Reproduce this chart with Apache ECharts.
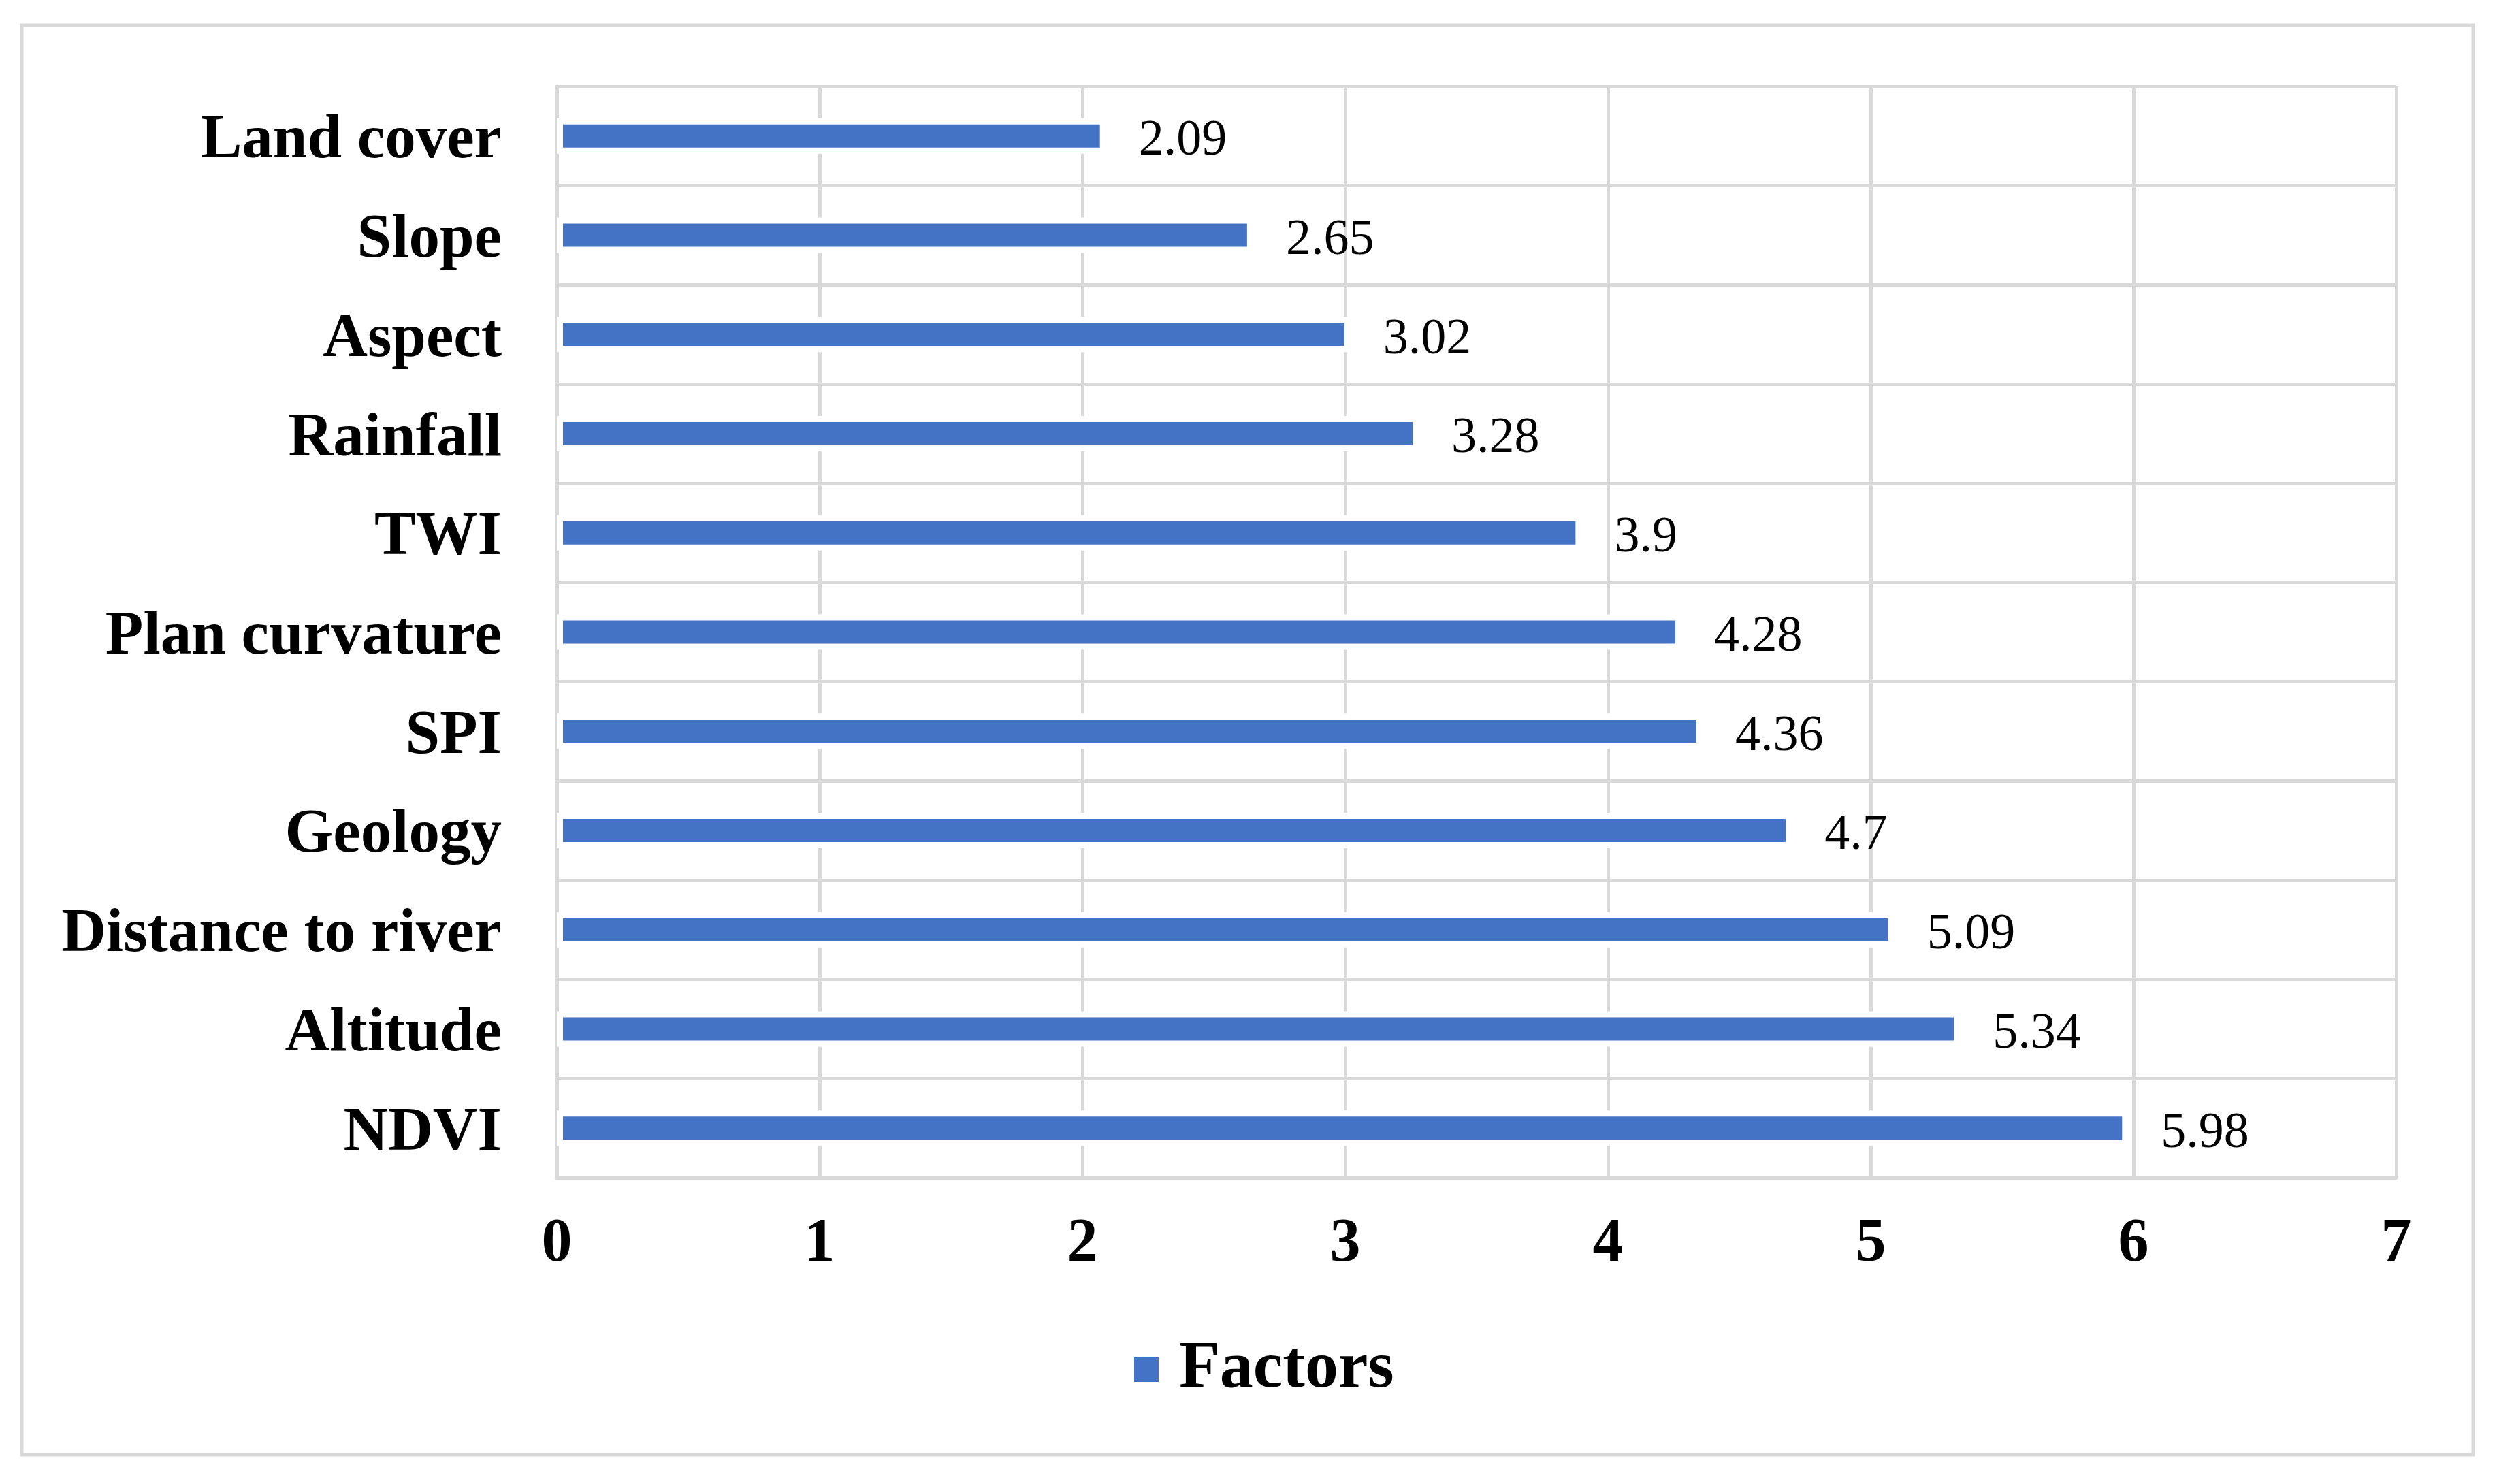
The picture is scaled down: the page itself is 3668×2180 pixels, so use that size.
<!DOCTYPE html>
<html lang="en">
<head>
<meta charset="utf-8">
<title>Factors</title>
<script src="https://cdn.jsdelivr.net/npm/echarts@6/dist/echarts.min.js"></script>
<style>
html,body{margin:0;padding:0;background:#fff;}
#main{width:3668px;height:2180px;}
</style>
</head>
<body>
<div id="main"></div>
<script>
// bottom to top, as in the picture
var factors = ['NDVI', 'Altitude', 'Distance to river', 'Geology', 'SPI', 'Plan curvature', 'TWI', 'Rainfall', 'Aspect', 'Slope', 'Land cover'];
var weights = [5.98, 5.34, 5.09, 4.7, 4.36, 4.28, 3.9, 3.28, 3.02, 2.65, 2.09];
var xTicks = [0, 7, 1]; // min, max, step

var grey = '#d9d9d9';
var serif = '"Liberation Serif","Times New Roman",serif';

var chart = echarts.init(document.getElementById('main'));
chart.setOption({
  backgroundColor: '#fff',
  animation: false,
  graphic: [{
    type: 'rect',
    shape: {x: 32, y: 37, width: 3601, height: 2100},
    style: {fill: 'none', stroke: grey, lineWidth: 5},
    z: -1
  }],
  grid: {left: 818, right: 148, top: 127, bottom: 450},
  legend: {
    data: ['Factors'],
    left: 1659,
    top: 1957,
    itemWidth: 38,
    itemHeight: 38,
    icon: 'rect',
    textStyle: {fontFamily: serif, fontWeight: 'bold', fontSize: 98, color: '#000', lineHeight: 100, padding: [0, 0, 0, 24]}
  },
  xAxis: {
    type: 'value',
    min: xTicks[0], max: xTicks[1], interval: xTicks[2],
    axisLine: {show: true, lineStyle: {color: grey, width: 5}},
    axisTick: {show: false},
    splitLine: {show: true, lineStyle: {color: grey, width: 5}},
    axisLabel: {fontFamily: serif, fontWeight: 'bold', fontSize: 90, color: '#000', margin: 54, lineHeight: 90}
  },
  yAxis: {
    type: 'category',
    data: factors,
    axisLine: {show: true, lineStyle: {color: grey, width: 5}},
    axisTick: {show: false},
    splitLine: {show: true, lineStyle: {color: grey, width: 5}},
    axisLabel: {
      fontFamily: serif, fontWeight: 'bold', fontSize: 91, color: '#000', margin: 81,
      formatter: function (v) { return '{t|' + v + '}'; },
      rich: {t: {fontFamily: serif, fontWeight: 'bold', fontSize: 91, color: '#000', padding: [16, 0, 0, 0]}}
    }
  },
  series: [{
    name: 'Factors',
    type: 'bar',
    data: weights,
    barWidth: 52,
    itemStyle: {color: '#4472c4', borderColor: '#fff', borderWidth: 9},
    label: {
      show: true,
      position: 'right',
      distance: 48,
      offset: [0, 8],
      fontFamily: serif,
      fontSize: 74,
      color: '#000'
    }
  }]
});
</script>
</body>
</html>
